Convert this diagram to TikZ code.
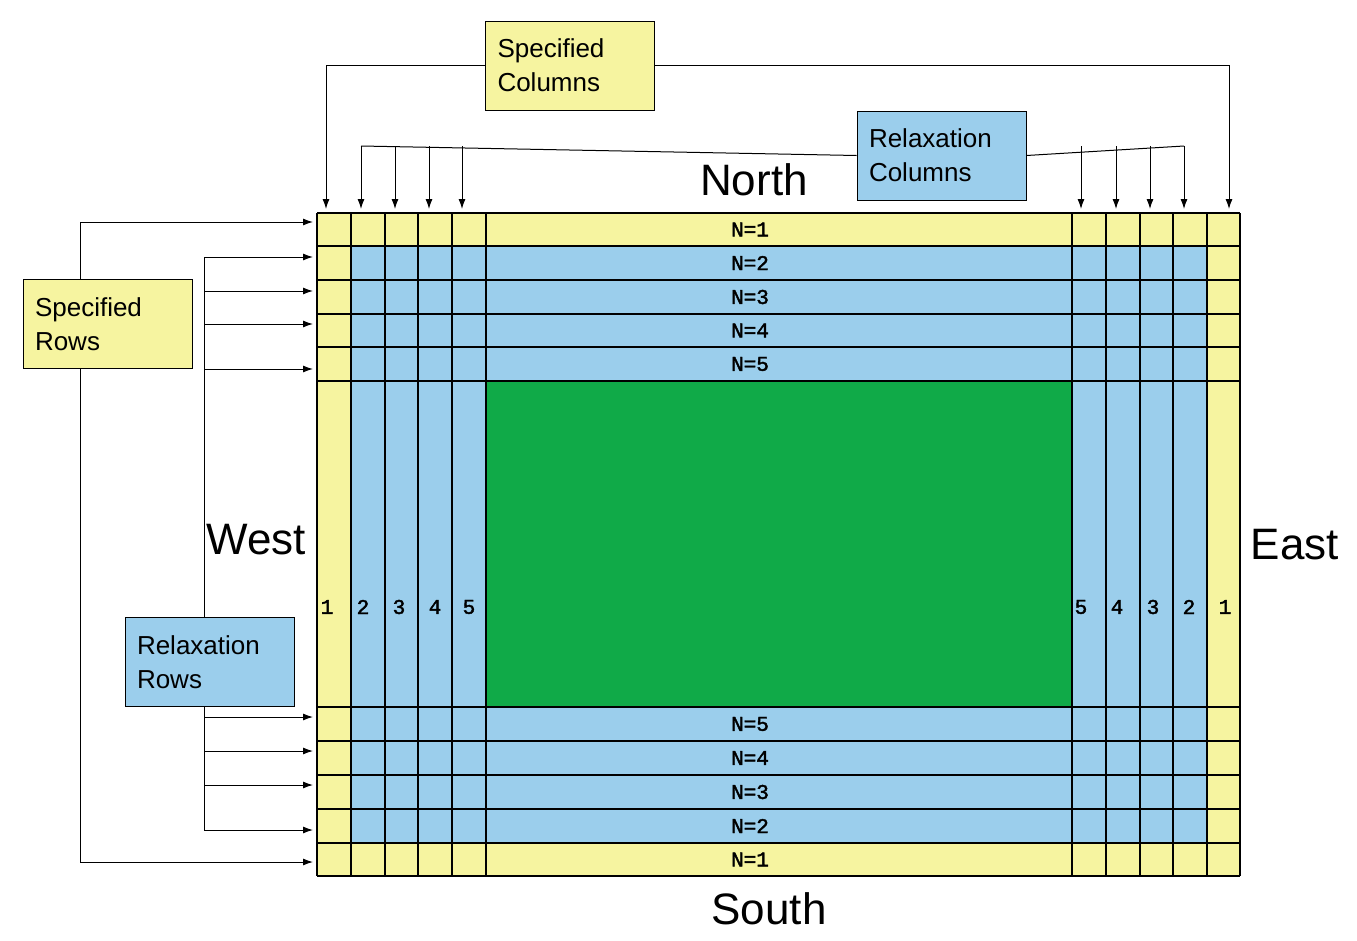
\documentclass[tikz,border=0pt]{standalone}
\usepackage{fontspec}
\setmainfont{Liberation Sans}
\newfontfamily\monob{Liberation Mono}[FakeBold=2]
\definecolor{cyel}{RGB}{246,244,160}
\definecolor{cblu}{RGB}{155,206,236}
\definecolor{cgrn}{RGB}{16,170,72}
\begin{document}
\begin{tikzpicture}[x=1pt,y=-1pt,line width=1.4pt,
  lbl/.style={draw,line width=1pt,minimum width=169pt,minimum height=89pt,align=left,text width=145pt,font=\fontsize{26}{34}\selectfont},
  cell/.style={draw,line width=1.4pt},
  arr/.style={line width=1pt,-{Latex[length=10pt,width=7pt]}},
  num/.style={font=\monob\fontsize{21}{21}\selectfont},
  dir/.style={font=\fontsize{44}{44}\selectfont}]
\usetikzlibrary{arrows.meta}
\useasboundingbox (0,0) rectangle (1357,940);
\def\xs{317,351,385,418,452,486,1072,1106,1140,1173,1207,1240}
% grid boundaries
\def\X#1{\ifcase#1 317\or351\or385\or418\or452\or486\or1072\or1106\or1140\or1173\or1207\or1240\fi}
\def\Y#1{\ifcase#1 213\or246\or280\or314\or347\or381\or707\or741\or775\or809\or843\or876\fi}
\foreach \i in {0,...,10}{
  \foreach \j in {0,...,10}{
    \pgfmathtruncatemacro\ip{\i+1}\pgfmathtruncatemacro\jp{\j+1}
    % colour
    \pgfmathtruncatemacro\outer{(\i==0)||(\i==10)||(\j==0)||(\j==10)}
    \pgfmathtruncatemacro\mid{(\i==5)&&(\j==5)}
    \ifnum\mid=1 \def\cc{cgrn}\else\ifnum\outer=1 \def\cc{cyel}\else\def\cc{cblu}\fi\fi
    % middle strips are not split
    \pgfmathtruncatemacro\skipc{((\i==5)||(\j==5))&&!(\outer==1)&&0}
    \fill[\cc] (\X\i,\Y\j) rectangle (\X\ip,\Y\jp);
  }
}
% lines
\foreach \i in {0,...,11}{\draw (\X\i,213) -- (\X\i,876);}
\foreach \j in {0,...,11}{\draw (317,\Y\j) -- (1240,\Y\j);}
% cover internal lines of middle bands
\fill[cyel] (487,214) rectangle (1071,245.3);
\fill[cyel] (487,843.7) rectangle (1071,875.3);
\foreach \a/\b in {246/280,280/314,314/347,347/381,707/741,741/775,775/809,809/843}{
  \fill[cblu] (487,\a+0.7) rectangle (1071,\b-0.7);}
\fill[cyel] (318,382) rectangle (350.3,706);
\fill[cyel] (1207.7,382) rectangle (1239.3,706);
\foreach \a/\b in {351/385,385/418,418/452,452/486,1072/1106,1106/1140,1140/1173,1173/1207}{
  \fill[cblu] (\a+0.7,382) rectangle (\b-0.7,706);}
\fill[cgrn] (487,382) rectangle (1071,706);
% labels
\foreach \t/\y in {1/229.5,2/263,3/297,4/330.5,5/364}{\node[num] (nn\t) at (750,\y) {N=\t};}
\foreach \t/\y in {5/724,4/758,3/792,2/826,1/859.5}{\node[num] (sn\t) at (750,\y) {N=\t};}
\foreach \t/\x in {1/327,2/363,3/399,4/435,5/469}{\node[num] (wn\t) at (\x,607) {\t};}
\foreach \t/\x in {5/1081,4/1117,3/1153,2/1189,1/1225}{\node[num] (en\t) at (\x,607) {\t};}
\node[dir] (north) at (754,180) {North};
\node[dir] (south) at (769,909) {South};
\node[dir] (west) at (256,540) {West};
\node[dir] (east) at (1295,545) {East};
% connectors
\coordinate (sc1) at (326,209); \coordinate (sc2) at (1229,209);
\node[lbl,fill=cyel] (scol) at (570,65.5) {Specified\\Columns};
\draw[arr] (scol.west) -| (sc1);
\draw[arr] (scol.east) -| (sc2);
\node[lbl,fill=cblu] (rcol) at (941.5,155.5) {Relaxation\\Columns};
\draw[line width=1pt] (rcol.west) -- (361,146) (rcol.east) -- (1184,146);
\foreach \x in {361,395,429,462,1081,1116,1150,1184}{
  \coordinate (rc\x) at (\x,209);
  \draw[arr] (\x,146) -- (rc\x);}
\draw[line width=1pt] (80,222) -- (80,862);
\coordinate (sr1) at (313,222); \coordinate (sr2) at (313,862);
\draw[arr] (80,222) -- (sr1);
\draw[arr] (80,862) -- (sr2);
\node[lbl,fill=cyel] (srow) at (107.5,324) {Specified\\Rows};
\draw[line width=1pt] (204,257) -- (204,830);
\foreach \y in {257,291,324,369,717,751,785,830}{
  \coordinate (rr\y) at (313,\y);
  \draw[arr] (204,\y) -- (rr\y);}
\node[lbl,fill=cblu] (rrow) at (209.5,662) {Relaxation\\Rows};
\end{tikzpicture}
\end{document}
